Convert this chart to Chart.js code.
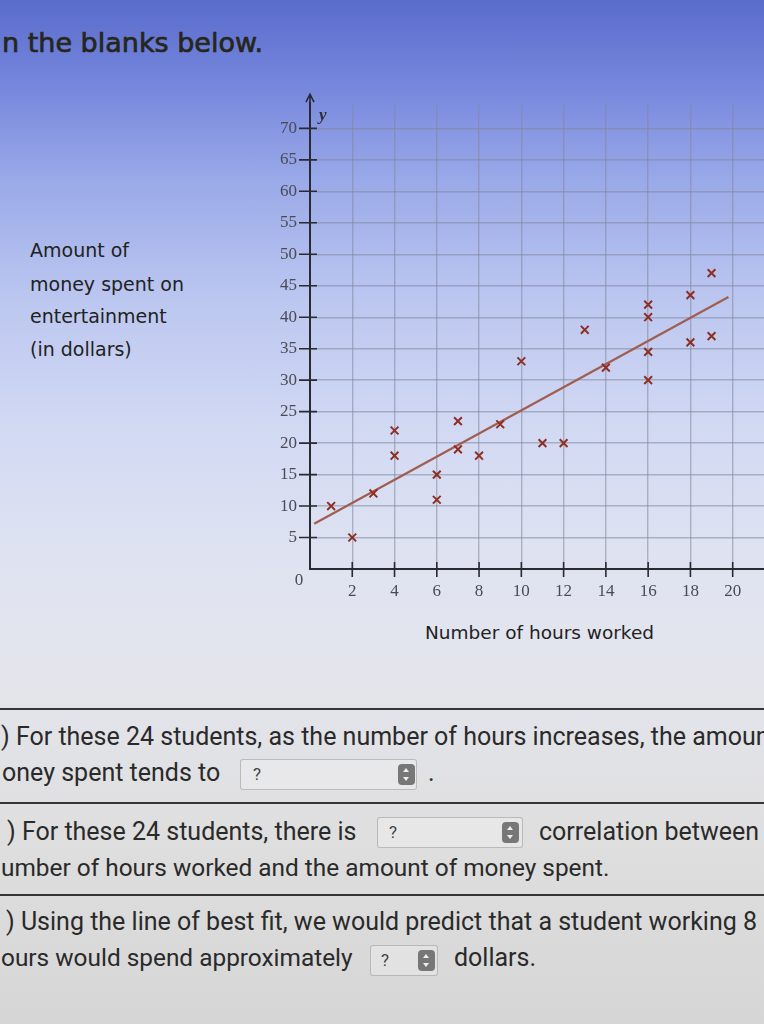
<!DOCTYPE html>
<html>
<head>
<meta charset="utf-8">
<script src="https://cdn.jsdelivr.net/npm/chart.js@4.4.0/dist/chart.umd.min.js"></script>
<style>
    html, body { margin: 0; padding: 0; }
    body {
        width: 764px; height: 1024px; overflow: hidden; position: relative;
        background: linear-gradient(180deg, #5a6ccb 0px, #7485dc 80px, #9aa9e8 180px, #bcc7f0 300px,
            #d2d9f3 430px, #dfe3f1 560px, #e4e5ec 680px, #dedede 850px, #d6d6d6 1024px);
        font-family: Roboto, sans-serif; color: #2a2a2a;
    }
    .t { position: absolute; white-space: nowrap; line-height: 1; }
    .head { font-family: "DejaVu Sans", sans-serif; font-size: 27px; color: #26261c; -webkit-text-stroke: 0.7px #26261c; }
    .ylab { font-family: "DejaVu Sans", sans-serif; font-size: 19px; color: #222; left: 30px; }
    .xlab { font-family: "DejaVu Sans", sans-serif; font-size: 18.5px; color: #222; }
    .q { font-size: 25px; }
    .q.sm { font-size: 24.4px; }
    .rule { position: absolute; left: 0; width: 764px; height: 2px; background: #353535; }
    .box { position: absolute; border: 1px solid rgba(150,150,150,0.55); border-radius: 3px; background: rgba(255,255,255,0.25); }
    .box .qm { position: absolute; font-size: 17px; color: #444; line-height: 1; }
    .btn { position: absolute; width: 17px; height: 21px; border-radius: 4px; background: #777; }
    .btn::before, .btn::after { content: ""; position: absolute; left: 5px; border-left: 3.5px solid transparent; border-right: 3.5px solid transparent; }
    .btn::before { top: 4px; border-bottom: 4px solid #eee; }
    .btn::after { bottom: 4px; border-top: 4px solid #eee; }
    #chart { position: absolute; left: 250px; top: 80px; }
</style>
</head>
<body>

<div class="t head" style="left:2px; top:29px;">n the blanks below.</div>

<div class="t ylab" style="top:241px;">Amount of</div>
<div class="t ylab" style="top:275px;">money spent on</div>
<div class="t ylab" style="top:307px;">entertainment</div>
<div class="t ylab" style="top:340px;">(in dollars)</div>

<canvas id="chart" width="524" height="520"></canvas>

<div class="t xlab" style="left:425px; top:624px;">Number of hours worked</div>

<div class="rule" style="top:708px;"></div>
<div class="t q" style="left:1px; top:724px;">) For these 24 students, as the number of hours increases, the amount</div>
<div class="t q" style="left:2px; top:760px;">oney spent tends to</div>
<div class="box" style="left:240px; top:759px; width:175px; height:29px;">
    <span class="qm" style="left:12px; top:6px;">?</span>
    <div class="btn" style="left:157px; top:4px;"></div>
</div>
<div class="t q" style="left:428px; top:760px;">.</div>

<div class="rule" style="top:802px;"></div>
<div class="t q" style="left:7px; top:819px;">) For these 24 students, there is</div>
<div class="box" style="left:377px; top:817px; width:144px; height:29px;">
    <span class="qm" style="left:11px; top:6px;">?</span>
    <div class="btn" style="left:124px; top:4px;"></div>
</div>
<div class="t q" style="left:539px; top:819px;">correlation between the</div>
<div class="t q sm" style="left:1px; top:856px;">umber of hours worked and the amount of money spent.</div>

<div class="rule" style="top:894px;"></div>
<div class="t q" style="left:6px; top:909px;">) Using the line of best fit, we would predict that a student working 8</div>
<div class="t q sm" style="left:1px; top:946px;">ours would spend approximately</div>
<div class="box" style="left:370px; top:945px; width:66px; height:29px;">
    <span class="qm" style="left:10px; top:6px;">?</span>
    <div class="btn" style="left:47px; top:4px;"></div>
</div>
<div class="t q" style="left:454px; top:945px;">dollars.</div>

<script>
// Scatter plot data: hours worked vs money spent (24 students)
const hours = [1, 2, 3, 4, 4, 6, 6, 7, 7, 8, 9, 10, 11, 12, 13, 14, 16, 16, 16, 16, 18, 18, 19, 19];
const money = [10, 5, 12, 22, 18, 15, 11, 23.5, 19, 18, 23, 33, 20, 20, 38, 32, 42, 40, 34.5, 30, 43.5, 36, 47, 37];

// Line of best fit end points
const fitX = [0.2, 19.8];
const fitY = [7.2, 43.2];

// Tick labels
const xTicks = [2, 4, 6, 8, 10, 12, 14, 16, 18, 20];
const yTicks = [5, 10, 15, 20, 25, 30, 35, 40, 45, 50, 55, 60, 65, 70];

const axisColor = '#2a2a33';
const gridColor = 'rgba(130,135,158,0.55)';
const tickFont = { family: 'Liberation Serif', size: 17 };

// Crossing tick marks, arrow on the y axis, the "y" and the origin "0"
const axisMarks = {
    id: 'axisMarks',
    afterDraw(chart) {
        const ctx = chart.ctx;
        const xs = chart.scales.x;
        const ys = chart.scales.y;
        const x0 = xs.getPixelForValue(0);
        const y0 = ys.getPixelForValue(0);

        ctx.save();
        ctx.strokeStyle = axisColor;
        ctx.lineWidth = 1.6;
        ctx.beginPath();
        yTicks.forEach(v => {
            const py = ys.getPixelForValue(v);
            ctx.moveTo(x0 - 11, py);
            ctx.lineTo(x0 + 7, py);
        });
        xTicks.forEach(v => {
            const px = xs.getPixelForValue(v);
            ctx.moveTo(px, y0 - 7);
            ctx.lineTo(px, y0 + 8);
        });
        // y axis arrow
        const top = chart.chartArea.top;
        ctx.moveTo(x0, top);
        ctx.lineTo(x0, top - 8);
        ctx.moveTo(x0 - 4, top - 1);
        ctx.lineTo(x0, top - 9);
        ctx.lineTo(x0 + 4, top - 1);
        ctx.stroke();

        ctx.fillStyle = '#2e2e38';
        ctx.font = 'italic bold 17px "Liberation Serif"';
        ctx.textAlign = 'left';
        ctx.textBaseline = 'middle';
        ctx.fillText('y', x0 + 9, ys.getPixelForValue(72));

        ctx.fillStyle = '#4b4b55';
        ctx.font = '17px "Liberation Serif"';
        ctx.textAlign = 'center';
        ctx.fillText('0', x0 - 11, y0 + 12);
        ctx.restore();
    }
};

new Chart(document.getElementById('chart'), {
    type: 'scatter',
    data: {
        datasets: [
            {
                label: 'Students',
                data: hours.map((h, i) => ({ x: h, y: money[i] })),
                pointStyle: 'crossRot',
                pointRadius: 5.5,
                borderColor: '#8e2f25',
                backgroundColor: '#8e2f25',
                borderWidth: 2,
                order: 1
            },
            {
                label: 'Best fit',
                data: fitX.map((x, i) => ({ x: x, y: fitY[i] })),
                showLine: true,
                pointRadius: 0,
                borderColor: '#a05e50',
                borderWidth: 2.2,
                order: 2
            }
        ]
    },
    options: {
        responsive: false,
        animation: false,
        layout: { padding: { top: 14, right: 0, bottom: 0, left: 0 } },
        plugins: {
            legend: { display: false },
            tooltip: { enabled: false }
        },
        scales: {
            x: {
                type: 'linear',
                min: 0,
                max: 21.6,
                afterBuildTicks: axis => { axis.ticks = xTicks.map(v => ({ value: v })); },
                afterFit: axis => { axis.height = 31; },
                grid: { color: gridColor, lineWidth: 1.4, drawTicks: false },
                border: { display: true, color: axisColor, width: 2 },
                ticks: { padding: 12, color: '#4b4b55', font: tickFont, maxRotation: 0 }
            },
            y: {
                type: 'linear',
                min: 0,
                max: 74,
                afterBuildTicks: axis => { axis.ticks = yTicks.map(v => ({ value: v })); },
                afterFit: axis => { axis.width = 60; },
                grid: { color: gridColor, lineWidth: 1.4, drawTicks: false },
                border: { display: true, color: axisColor, width: 2 },
                ticks: { padding: 13, color: '#4b4b55', font: tickFont }
            }
        }
    },
    plugins: [axisMarks]
});
</script>
</body>
</html>
